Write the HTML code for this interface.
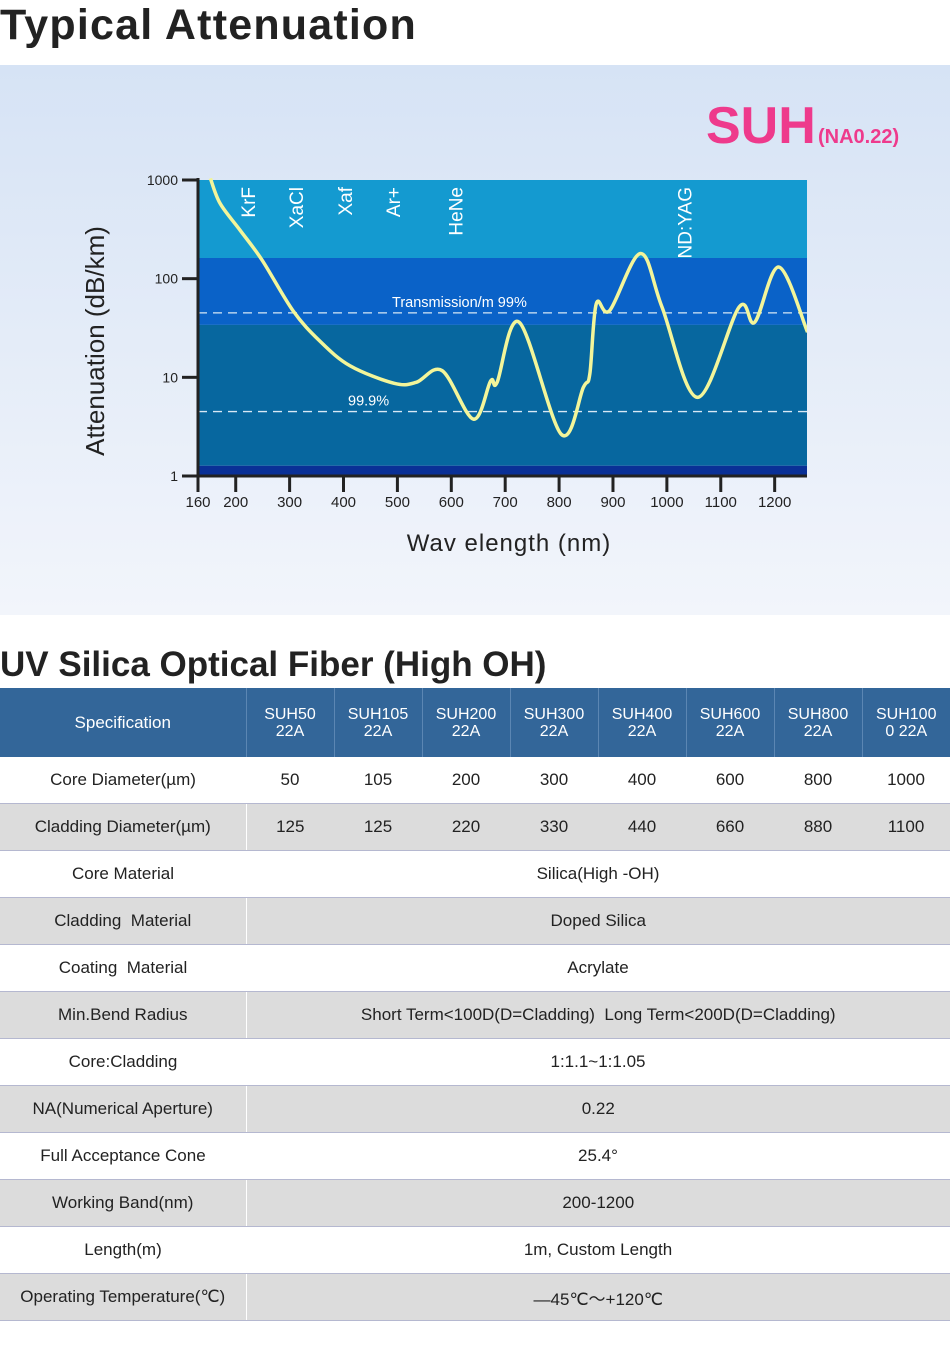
<!DOCTYPE html>
<html><head><meta charset="utf-8"><style>
body{margin:0;width:950px;height:1348px;background:#fff;font-family:"Liberation Sans",sans-serif;position:relative;overflow:hidden}
.t1{position:absolute;left:0;top:1px;font-size:43px;font-weight:bold;color:#222;letter-spacing:1.2px}
.t2{position:absolute;left:0;top:645px;font-size:35px;font-weight:bold;color:#222;letter-spacing:0}
.chartbg{position:absolute;left:0;top:65px;width:950px;height:550px;background:linear-gradient(#d6e3f5,#f2f5fb)}
table{position:absolute;left:0;top:688px;width:950px;border-collapse:collapse;font-size:17px;color:#222;table-layout:fixed}
td{text-align:center;height:46px;border-bottom:1.5px solid #b5b8d0;padding:0}
th{background:#336699;color:#fff;font-weight:normal;height:69px;border-left:1px solid #5b86b3;font-size:16px;line-height:17px;padding:0}
tr.g td{background:#dcdcdc}
tr.g td:first-child{border-right:1px solid #fff}
</style></head><body>
<div class="t1">Typical Attenuation</div>
<div class="chartbg"></div>
<svg id="chart" width="950" height="615" style="position:absolute;left:0;top:0" font-family="Liberation Sans, sans-serif"></svg>
<div class="t2">UV Silica Optical Fiber (High OH)</div>
<table>
<colgroup><col style="width:246px"><col style="width:88px"><col style="width:88px"><col style="width:88px"><col style="width:88px"><col style="width:88px"><col style="width:88px"><col style="width:88px"><col style="width:88px"></colgroup>
<tr><th style="font-size:17px;border-left:none">Specification</th><th>SUH50<br>22A</th><th>SUH105<br>22A</th><th>SUH200<br>22A</th><th>SUH300<br>22A</th><th>SUH400<br>22A</th><th>SUH600<br>22A</th><th>SUH800<br>22A</th><th>SUH100<br>0 22A</th></tr>
<tr><td>Core Diameter(µm)</td><td>50</td><td>105</td><td>200</td><td>300</td><td>400</td><td>600</td><td>800</td><td>1000</td></tr>
<tr class="g"><td>Cladding Diameter(µm)</td><td>125</td><td>125</td><td>220</td><td>330</td><td>440</td><td>660</td><td>880</td><td>1100</td></tr>
<tr><td>Core Material</td><td colspan="8">Silica(High -OH)</td></tr>
<tr class="g"><td>Cladding&nbsp; Material</td><td colspan="8">Doped Silica</td></tr>
<tr><td>Coating&nbsp; Material</td><td colspan="8">Acrylate</td></tr>
<tr class="g"><td>Min.Bend Radius</td><td colspan="8">Short Term&lt;100D(D=Cladding)&nbsp; Long Term&lt;200D(D=Cladding)</td></tr>
<tr><td>Core:Cladding</td><td colspan="8">1:1.1~1:1.05</td></tr>
<tr class="g"><td>NA(Numerical Aperture)</td><td colspan="8">0.22</td></tr>
<tr><td>Full Acceptance Cone</td><td colspan="8">25.4°</td></tr>
<tr class="g"><td>Working Band(nm)</td><td colspan="8">200-1200</td></tr>
<tr><td>Length(m)</td><td colspan="8">1m, Custom Length</td></tr>
<tr class="g"><td>Operating Temperature(℃)</td><td colspan="8">—45℃～+120℃</td></tr>
</table>
<script>
const wavelengths=[153,171,208,249,306,355,412,494,535,583,641,673,685,726,804,845,857,869,894,951,991,1057,1134,1163,1208,1261];
const attenuation=[1040,579,310,154,47.6,23.6,13.1,8.7,8.9,11.7,3.77,9.2,8.9,36.2,2.65,7.9,10.8,55.7,47.6,180,51.5,6.26,51.5,36.2,131,28.7];
const xTicks=[160,200,300,400,500,600,700,800,900,1000,1100,1200];
const yTicks=[1,10,100,1000];
const laserLabels=["KrF","XaCl","Xaf","Ar+","HeNe","ND:YAG"];
const laserNm=[223,312,403,492,608,1033];
const X0=198,X1=807,Y0=476,Y1=180;
const xs=v=>X0+(v-130)*(X1-X0)/(1260-130);
const ys=v=>Y0-Math.log10(v)*(Y0-Y1)/3;
const svg=document.getElementById('chart');const NS='http://www.w3.org/2000/svg';
function mk(t,a,txt){const e=document.createElementNS(NS,t);for(const k in a)e.setAttribute(k,a[k]);if(txt!=null)e.textContent=txt;svg.appendChild(e);return e;}
let e;
e=mk('rect',{x:X0,y:Y1,width:X1-X0,height:ys(162)-Y1,fill:'#149ad0'});
e=mk('rect',{x:X0,y:ys(162),width:X1-X0,height:ys(34)-ys(162),fill:'#0a62c8'});
e=mk('rect',{x:X0,y:ys(34),width:X1-X0,height:ys(1.27)-ys(34),fill:'#07679f'});
e=mk('rect',{x:X0,y:ys(1.27),width:X1-X0,height:Y0-ys(1.27),fill:'#0a3096'});
[[45,'Transmission/m 99%',392],[4.5,'99.9%',348]].forEach(([v,t,tx])=>{
 e=mk('line',{x1:X0,x2:X1,y1:ys(v),y2:ys(v),stroke:'#d8e8f5','stroke-width':1.3,'stroke-dasharray':'9,6'});
 e=mk('text',{x:tx,y:ys(v)-6,fill:'#fff','font-size':14.5},t);});
laserLabels.forEach((l,i)=>{const x=xs(laserNm[i]);
 e=mk('text',{x:0,y:0,fill:'#fff','font-size':19,transform:`translate(${x+7},${187}) rotate(-90)`,'text-anchor':'end'},l);});
const pts=wavelengths.map((w,i)=>[xs(w),ys(attenuation[i])]);
let d=`M${pts[0][0]},${pts[0][1]}`;
for(let i=0;i<pts.length-1;i++){const p0=pts[i-1]||pts[i],p1=pts[i],p2=pts[i+1],p3=pts[i+2]||p2;
 d+=` C${p1[0]+(p2[0]-p0[0])/6},${p1[1]+(p2[1]-p0[1])/6} ${p2[0]-(p3[0]-p1[0])/6},${p2[1]-(p3[1]-p1[1])/6} ${p2[0]},${p2[1]}`;}
mk('clipPath',{id:'cp'}).innerHTML=`<rect x="${X0}" y="${Y1-2}" width="${X1-X0}" height="${Y0-Y1+2}"/>`;
e=mk('path',{d:d,fill:'none',stroke:'#f3f59a','stroke-width':3.5,'clip-path':'url(#cp)'});
e=mk('line',{x1:X0,x2:X0,y1:Y1-2,y2:Y0+15,stroke:'#222','stroke-width':3});
e=mk('line',{x1:X0,x2:X1,y1:Y0,y2:Y0,stroke:'#222','stroke-width':3});
yTicks.forEach(v=>{const y=ys(v);
 e=mk('line',{x1:X0-16,x2:X0,y1:y,y2:y,stroke:'#222','stroke-width':3});
 e=mk('text',{x:X0-20,y:y+5,'text-anchor':'end','font-size':14,fill:'#222'},v);});
xTicks.forEach((v,i)=>{const x=i===0?X0:xs(v);
 e=mk('line',{x1:x,x2:x,y1:Y0,y2:Y0+16,stroke:'#222','stroke-width':3});
 e=mk('text',{x:x,y:Y0+31,'text-anchor':'middle','font-size':15,fill:'#222'},v);});
e=mk('text',{x:509,y:551,'text-anchor':'middle','font-size':24,fill:'#222','letter-spacing':1},'Wav elength (nm)');
e=mk('text',{x:0,y:0,'text-anchor':'middle','font-size':26,fill:'#222',transform:'translate(104,341) rotate(-90)'},'Attenuation (dB/km)');
e=mk('text',{x:706,y:143,'font-size':52,'font-weight':'bold',fill:'#ee3a8c'},'SUH');
e=mk('text',{x:818,y:143,'font-size':20,'font-weight':'bold',fill:'#ee3a8c'},'(NA0.22)');
</script>
</body></html>
